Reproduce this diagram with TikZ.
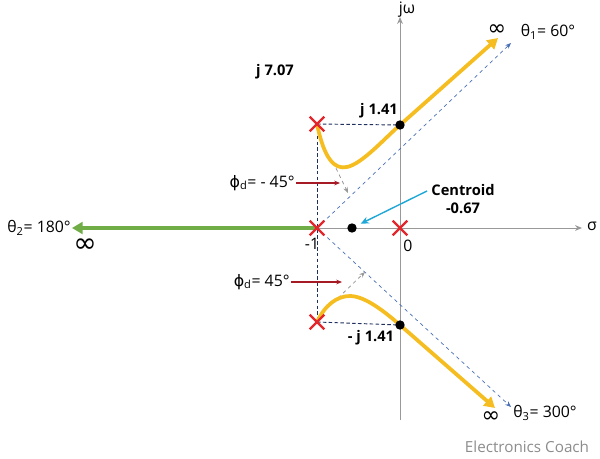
\documentclass[tikz,border=0pt]{standalone}
\usepackage{fontspec}
\setmainfont{Open Sans}
\newfontfamily\symfont{DejaVu Sans}
\usetikzlibrary{arrows.meta,shapes.misc}

\definecolor{locusc}{HTML}{F5BD1F}
\definecolor{realc}{HTML}{70AD47}
\definecolor{polered}{HTML}{E3262B}
\definecolor{asymc}{HTML}{4A6FB5}
\definecolor{navy}{HTML}{1F2F5F}
\definecolor{darkred}{HTML}{A51A24}
\definecolor{cyanc}{HTML}{1FA7D6}

\begin{document}
\begin{tikzpicture}[x=0.03cm,y=-0.03cm,
  pole/.style={cross out,draw=polered,line width=2pt,minimum size=10.5pt,inner sep=0pt},
  dot/.style={circle,fill=black,inner sep=0pt,minimum size=8pt},
  axis/.style={black!40,line width=0.8pt,-{Stealth[length=6pt,width=5pt]}},
  locus/.style={draw=locusc,line width=3.2pt,-{Triangle[length=9pt,width=10pt]}},
  realloc/.style={draw=realc,line width=3.2pt,-{Triangle[length=9pt,width=10pt]}},
  asym/.style={draw=asymc,dashed,line width=0.6pt,-{Stealth[length=5pt,width=4pt]}},
  guide/.style={draw=navy,densely dashed,line width=0.8pt},
  depart/.style={draw=black!40,dashed,line width=0.7pt,-{Stealth[length=5pt,width=4pt]}},
  phiarr/.style={draw=darkred,line width=0.9pt,-{Stealth[length=5pt,width=4pt]}},
  cenarr/.style={draw=cyanc,line width=1.2pt,-{Stealth[length=7pt,width=6pt]}},
  lbl/.style={font=\fontsize{13.5}{15}\selectfont,inner sep=1pt},
  blbl/.style={font=\fontsize{12.5}{15}\selectfont\bfseries,inner sep=1pt},
  inf/.style={font=\symfont\fontsize{19}{19}\selectfont,inner sep=0pt},
  ]

\useasboundingbox (0,0) rectangle (600,459);

% axes
\coordinate (jtop) at (400,17);
\coordinate (jbot) at (400,420);
\coordinate (sright) at (582,228);
\draw[black!40,line width=0.8pt] (jbot) -- (400,228);
\draw[axis] (400,228) -- (jtop);
\draw[axis] (317,228) -- (sright);
\node[lbl] (jw) at (407,10) {jω};
\node[lbl] (sig) at (592,226) {σ};

% construction lines
\coordinate (pu) at (317,124);
\coordinate (pl) at (317,322);
\coordinate (pm1) at (317,228);
\coordinate (wu) at (400,125);
\coordinate (wl) at (400,325);
\draw[guide] (pu) -- (wu);
\draw[guide] (pu) -- (pl);
\draw[guide] (pl) -- (wl);

% asymptotes
\coordinate (a1) at (511,43);
\coordinate (a3) at (511,407);
\draw[asym] (pm1) -- (a1);
\draw[asym] (pm1) -- (a3);

% departure directions
\coordinate (du1) at (333,162);
\coordinate (du2) at (348,193);
\coordinate (dl1) at (338,298);
\coordinate (dl2) at (365,272);
\draw[depart] (du1) -- (du2);
\draw[depart] (dl1) -- (dl2);

% root locus branches
\coordinate (e1) at (498,38);
\coordinate (e2) at (72,228);
\coordinate (e3) at (495,408);
\draw[locus] (pu) .. controls (324,158) and (334,170) .. (347,167)
  .. controls (362,164) and (385,138) .. (wu) -- (e1);
\draw[locus] (pl) .. controls (325,305) and (337,296) .. (350,296)
  .. controls (365,296) and (385,312) .. (wl) -- (e3);
\draw[realloc] (pm1) -- (e2);

% poles, centroid and jw crossings
\node[pole] (pm1n) at (pm1) {};
\node[pole] (p0) at (400,228) {};
\node[pole] (pun) at (pu) {};
\node[pole] (pln) at (pl) {};
\node[dot] (cen) at (352,228) {};
\node[dot] (wun) at (wu) {};
\node[dot] (wln) at (wl) {};

% labels
\node[blbl] (j707) at (275,72) {j 7.07};
\node[blbl] (j141) at (379,111) {j 1.41};
\node[blbl] (mj141) at (371,338) {- j 1.41};
\node[lbl] (m1) at (312,244) {-1};
\node[lbl] (zero) at (408,246) {0};
\node[blbl,align=center] (cenlbl) at (463,199) {Centroid\\-0.67};
\coordinate (c1) at (427,191);
\draw[cenarr,shorten >=4pt] (c1) -- (cen);

\node[lbl,anchor=east] (phu) at (296,183) {{\symfont ϕ}\textsubscript{d}= - 45°};
\node[lbl,anchor=east] (phl) at (291,282) {{\symfont ϕ}\textsubscript{d}= 45°};
\coordinate (phue) at (340,183);
\coordinate (phle) at (342,282);
\draw[phiarr] (phu.east) -- (phue);
\draw[phiarr] (phl.east) -- (phle);

\node[inf] (inf1) at (497,30) {∞};
\node[lbl] (th1) at (548,32) {θ\textsubscript{1}= 60°};
\node[lbl] (th2) at (39,228) {θ\textsubscript{2}= 180°};
\node[inf,font=\symfont\fontsize{24}{24}\selectfont] (inf2) at (85,246) {∞};
\node[inf] (inf3) at (491,417) {∞};
\node[lbl] (th3) at (545,413) {θ\textsubscript{3}= 300°};
\node[font=\fontsize{13}{15}\selectfont,text=black!45] (credit) at (527,447) {Electronics Coach};

\end{tikzpicture}
\end{document}
